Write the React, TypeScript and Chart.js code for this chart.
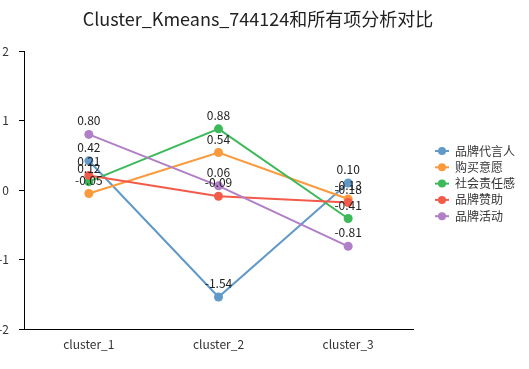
import React, { useEffect, useRef } from "react";
import { Chart, registerables } from "chart.js";

Chart.register(...registerables);

const TITLE = "Cluster_Kmeans_744124和所有项分析对比";
const categories = ["cluster_1", "cluster_2", "cluster_3"];
const seriesNames = ["品牌代言人", "购买意愿", "社会责任感", "品牌赞助", "品牌活动"];
const spokesperson = [0.42, -1.54, 0.1];
const purchaseIntent = [-0.05, 0.54, -0.13];
const socialResponsibility = [0.12, 0.88, -0.41];
const sponsorship = [0.21, -0.09, -0.18];
const activities = [0.8, 0.06, -0.81];
const seriesValues = [spokesperson, purchaseIntent, socialResponsibility, sponsorship, activities];
const colors = ["#6199c8", "#fa9a3c", "#3db95a", "#f25b4a", "#b07fc7"];
const yTicks = [-2, -1, 0, 1, 2];

const FONT = "'Noto Sans CJK SC', 'Noto Sans', sans-serif";

const overlayPlugin = {
  id: "overlay",
  afterDatasetsDraw(chart: any) {
    const ctx = chart.ctx;
    ctx.save();
    ctx.font = `12px ${FONT}`;
    ctx.fillStyle = "#222";
    ctx.textAlign = "center";
    ctx.textBaseline = "middle";
    chart.data.datasets.forEach((ds: any, i: number) => {
      const meta = chart.getDatasetMeta(i);
      meta.data.forEach((pt: any, j: number) => {
        ctx.fillText(Number(ds.data[j]).toFixed(2), pt.x, pt.y - 13.5);
      });
    });
    ctx.restore();
  },
  afterDraw(chart: any) {
    const ctx = chart.ctx;
    ctx.save();
    ctx.font = `18px ${FONT}`;
    ctx.fillStyle = "#222";
    ctx.textAlign = "center";
    ctx.textBaseline = "middle";
    ctx.fillText(TITLE, 258, 19);
    ctx.font = `12px ${FONT}`;
    ctx.textAlign = "left";
    chart.data.datasets.forEach((ds: any, i: number) => {
      const y = 151 + i * 16.3;
      const x0 = 435;
      ctx.strokeStyle = ds.borderColor;
      ctx.lineWidth = 2;
      ctx.beginPath();
      ctx.moveTo(x0, y);
      ctx.lineTo(x0 + 14, y);
      ctx.stroke();
      ctx.fillStyle = ds.borderColor;
      ctx.beginPath();
      ctx.arc(x0 + 7, y, 4, 0, Math.PI * 2);
      ctx.fill();
      ctx.fillStyle = "#333";
      ctx.fillText(ds.label, x0 + 20, y);
    });
    ctx.restore();
  },
};

export default function App() {
  const ref = useRef<HTMLCanvasElement | null>(null);
  useEffect(() => {
    if (!ref.current) return;
    const chart = new Chart(ref.current, {
      type: "line",
      data: {
        labels: categories,
        datasets: seriesNames.map((name, i) => ({
          label: name,
          data: seriesValues[i],
          borderColor: colors[i],
          backgroundColor: colors[i],
          pointBackgroundColor: colors[i],
          pointBorderWidth: 0,
          pointRadius: 4.5,
          borderWidth: 2,
          tension: 0,
          order: seriesNames.length - i,
        })),
      },
      options: {
        animation: false,
        responsive: false,
        layout: { padding: { top: 51, right: 116, left: 0, bottom: 0 } },
        plugins: {
          legend: { display: false },
          title: { display: false },
          tooltip: { enabled: false },
        },
        scales: {
          x: {
            type: "category",
            offset: true,
            grid: { display: false, drawTicks: false },
            border: { display: true, color: "#000", width: 1 },
            ticks: { padding: 8, color: "#333", font: { size: 12, family: FONT } },
            afterFit(scale: any) {
              scale.height = 40;
            },
          },
          y: {
            min: -2,
            max: 2,
            afterBuildTicks(scale: any) {
              scale.ticks = yTicks.map((v) => ({ value: v }));
            },
            grid: { drawOnChartArea: false, tickLength: 5, color: "#000" },
            border: { display: true, color: "#000", width: 1 },
            ticks: { padding: 10, color: "#333", font: { size: 12, family: FONT } },
            afterFit(scale: any) {
              scale.width = 24;
            },
          },
        },
      },
      plugins: [overlayPlugin],
    });
    return () => chart.destroy();
  }, []);
  return (
    <div style={{ position: "absolute", left: 0, top: 0, width: 529, height: 369, background: "#fff" }}>
      <canvas ref={ref} width={529} height={369} style={{ width: 529, height: 369 }} />
    </div>
  );
}
